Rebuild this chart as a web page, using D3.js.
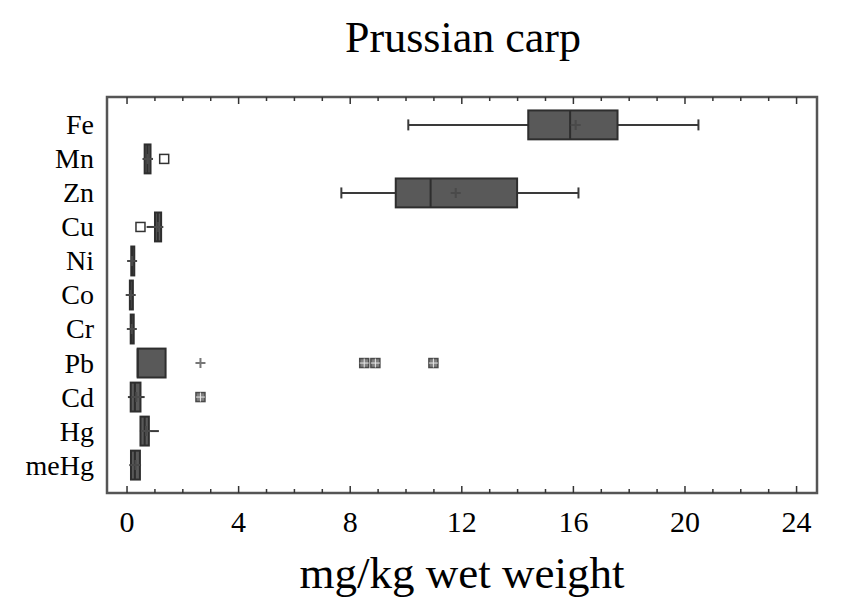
<!DOCTYPE html>
<html>
<head>
<meta charset="utf-8">
<script src="https://cdn.jsdelivr.net/npm/d3@7"></script>
<style>
  body { margin: 0; background: #fff; }
  svg text { font-family: "Liberation Serif", "Times New Roman", serif; fill: #000; }
</style>
</head>
<body>
<div id="chart"></div>
<script>
// Data (mg/kg wet weight)
const metals = ["Fe", "Mn", "Zn", "Cu", "Ni", "Co", "Cr", "Pb", "Cd", "Hg", "meHg"];
const whiskerLow  = [10.1, 0.58, 7.7, 0.72, 0.08, 0.07, 0.10, 0.40, 0.05, 0.48, 0.10];
const q1          = [14.4, 0.65, 9.65, 1.02, 0.17, 0.12, 0.15, 0.40, 0.15, 0.50, 0.16];
const medians     = [15.9, 0.75, 10.9, 1.12, 0.20, 0.14, 0.18, 0.40, 0.30, 0.65, 0.30];
const q3          = [17.6, 0.86, 14.0, 1.24, 0.23, 0.16, 0.21, 1.40, 0.50, 0.80, 0.48];
const whiskerHigh = [20.5, 0.95, 16.2, 1.30, 0.35, 0.22, 0.26, 1.40, 0.65, 1.16, 0.52];
const means       = [16.1, 0.76, 11.8, 1.14, 0.20, 0.15, 0.19, 2.65, 0.35, 0.70, 0.32];
// outside points ("out" = hollow square, "far" = square with plus)
const outlierMetal = ["Mn", "Cu", "Pb", "Pb", "Pb", "Cd"];
const outlierValue = [1.35, 0.50, 8.52, 8.92, 11.0, 2.65];
const outlierType  = ["out", "out", "far", "far", "far", "far"];
const majorTicks = [0, 4, 8, 12, 16, 20, 24];

const width = 842, height = 614;
const margin = {top: 97, right: 25, bottom: 121, left: 107};

const svg = d3.select("#chart").append("svg")
  .attr("width", width)
  .attr("height", height);

const x = d3.scaleLinear()
  .domain([-0.7, 24.75])
  .range([margin.left, width - margin.right]);

const y = d3.scalePoint()
  .domain(metals)
  .range([margin.top, height - margin.bottom])
  .padding(0.82);

const boxH = y.step() * 0.85;
const capH = 11;

const boxes = metals.map((m, i) => ({
  metal: m, lo: whiskerLow[i], q1: q1[i], med: medians[i], q3: q3[i], hi: whiskerHigh[i], mean: means[i]
}));
const outliers = outlierMetal.map((m, i) => ({metal: m, value: outlierValue[i], type: outlierType[i]}));

// Title
svg.append("text")
  .attr("x", 463).attr("y", 52)
  .attr("text-anchor", "middle")
  .style("font-size", "44px")
  .text("Prussian carp");

// Whiskers
const g = svg.append("g");
g.selectAll(".whisker")
  .data(boxes).join("line")
  .attr("x1", d => x(d.lo)).attr("x2", d => x(d.hi))
  .attr("y1", d => y(d.metal)).attr("y2", d => y(d.metal))
  .attr("stroke", "#3a3a3a").attr("stroke-width", 2);

g.selectAll(".capL")
  .data(boxes.filter(d => d.hi - d.lo > 1)).join("line")
  .attr("x1", d => x(d.lo)).attr("x2", d => x(d.lo))
  .attr("y1", d => y(d.metal) - capH / 2).attr("y2", d => y(d.metal) + capH / 2)
  .attr("stroke", "#3a3a3a").attr("stroke-width", 2);

g.selectAll(".capR")
  .data(boxes.filter(d => d.hi - d.lo > 1)).join("line")
  .attr("x1", d => x(d.hi)).attr("x2", d => x(d.hi))
  .attr("y1", d => y(d.metal) - capH / 2).attr("y2", d => y(d.metal) + capH / 2)
  .attr("stroke", "#3a3a3a").attr("stroke-width", 2);

// Boxes
g.selectAll(".box")
  .data(boxes).join("rect")
  .attr("x", d => x(d.q1))
  .attr("y", d => y(d.metal) - boxH / 2)
  .attr("width", d => Math.max(x(d.q3) - x(d.q1), 3))
  .attr("height", boxH)
  .attr("fill", "#595959")
  .attr("stroke", "#2e2e2e").attr("stroke-width", 2);

// Medians
g.selectAll(".median")
  .data(boxes).join("line")
  .attr("x1", d => x(d.med)).attr("x2", d => x(d.med))
  .attr("y1", d => y(d.metal) - boxH / 2).attr("y2", d => y(d.metal) + boxH / 2)
  .attr("stroke", "#2e2e2e").attr("stroke-width", 2);

// Mean markers (+)
const plusPath = (cx, cy, r) => `M${cx - r},${cy}H${cx + r}M${cx},${cy - r}V${cy + r}`;
g.selectAll(".mean")
  .data(boxes).join("path")
  .attr("d", d => plusPath(x(d.mean), y(d.metal), 5))
  .attr("stroke", d => (d.mean > d.q3 ? "#777" : "#4a4a4a"))
  .attr("stroke-width", 2);

// Outliers
const os = 4.5;
g.selectAll(".outlier")
  .data(outliers).join("rect")
  .attr("x", d => x(d.value) - os)
  .attr("y", d => y(d.metal) - os)
  .attr("width", os * 2).attr("height", os * 2)
  .attr("fill", d => (d.type === "far" ? "#808080" : "#fff"))
  .attr("stroke", d => (d.type === "far" ? "#4a4a4a" : "#333"))
  .attr("stroke-width", 1.5);

g.selectAll(".farplus")
  .data(outliers.filter(d => d.type === "far")).join("path")
  .attr("d", d => plusPath(x(d.value), y(d.metal), os))
  .attr("stroke", "#e8e8e8").attr("stroke-width", 1);

// Frame
svg.append("rect")
  .attr("x", margin.left).attr("y", margin.top)
  .attr("width", width - margin.left - margin.right)
  .attr("height", height - margin.top - margin.bottom)
  .attr("fill", "none")
  .attr("stroke", "#555").attr("stroke-width", 2.5);

// Bottom axis (inward ticks)
const xAxisBottom = svg.append("g")
  .attr("transform", `translate(0,${height - margin.bottom})`);
xAxisBottom.call(d3.axisBottom(x).tickValues(majorTicks).tickSize(-7).tickPadding(18).tickFormat(d3.format("d")));
xAxisBottom.append("g").call(d3.axisBottom(x).tickValues(d3.range(1, 25).filter(v => v % 4)).tickSize(-4).tickFormat(""));
xAxisBottom.selectAll(".domain").remove();
xAxisBottom.selectAll("line").attr("stroke", "#333").attr("stroke-width", 1.5);
xAxisBottom.selectAll("text").style("font-size", "30px").attr("fill", "#000");

// Top axis (mirror ticks)
const xAxisTop = svg.append("g")
  .attr("transform", `translate(0,${margin.top})`);
xAxisTop.call(d3.axisTop(x).tickValues(majorTicks).tickSize(-7).tickFormat(""));
xAxisTop.append("g").call(d3.axisTop(x).tickValues(d3.range(1, 25).filter(v => v % 4)).tickSize(-4).tickFormat(""));
xAxisTop.selectAll(".domain").remove();
xAxisTop.selectAll("line").attr("stroke", "#333").attr("stroke-width", 1.5);

// Left category labels
const yAxis = svg.append("g")
  .attr("transform", `translate(${margin.left},0)`)
  .call(d3.axisLeft(y).tickSize(0).tickPadding(13));
yAxis.select(".domain").remove();
yAxis.selectAll("text").style("font-size", "28px").attr("fill", "#000");

// Axis title
svg.append("text")
  .attr("x", 462).attr("y", 588)
  .attr("text-anchor", "middle")
  .style("font-size", "45px")
  .text("mg/kg wet weight");
</script>
</body>
</html>
